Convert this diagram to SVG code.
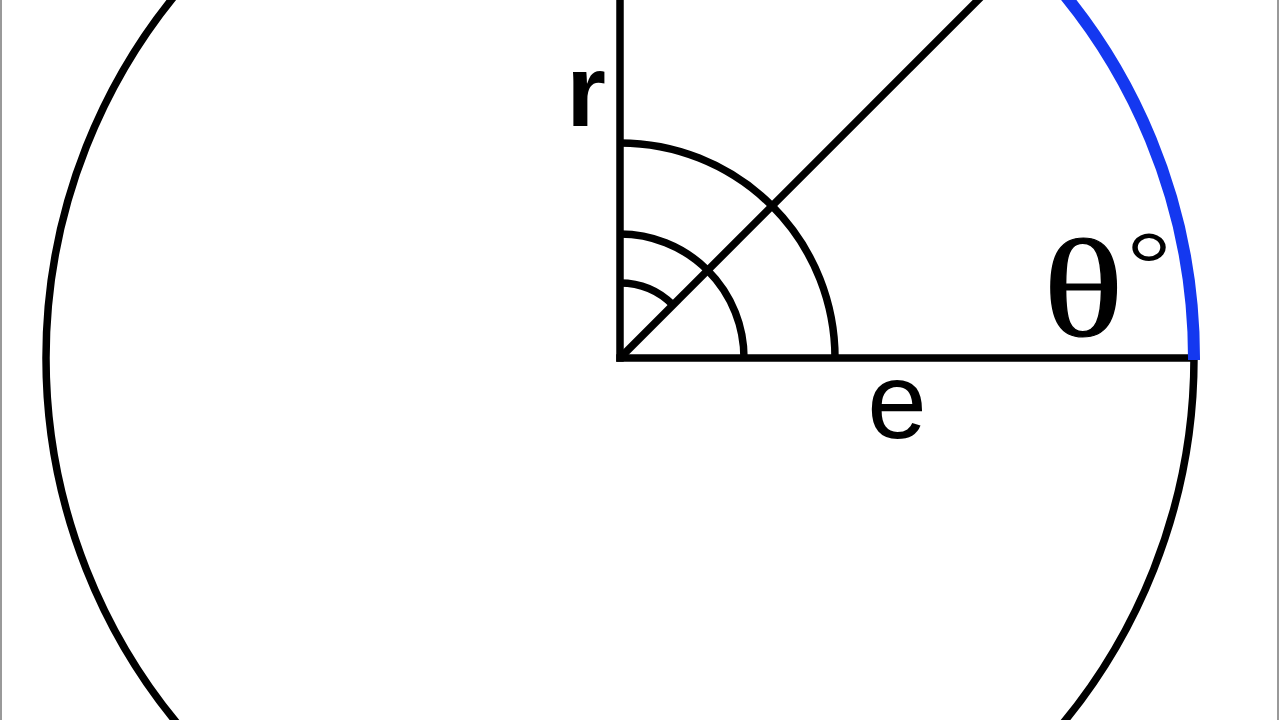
<svg xmlns="http://www.w3.org/2000/svg" width="1280" height="720" viewBox="0 0 1280 720">
<style>
.k{fill:none;stroke:#000;stroke-width:7.5}
.blue{fill:none;stroke:#1438f0;stroke-width:12}
.lbl{fill:#000;font-family:"Liberation Sans",Arial,sans-serif}
.th{fill:#000;font-family:"Liberation Serif","Times New Roman",serif}
</style>
<rect width="1280" height="720" fill="#fff"/>
<line x1="1" y1="0" x2="1" y2="720" stroke="#999" stroke-width="2"/>
<line x1="1278" y1="0" x2="1278" y2="720" stroke="#999" stroke-width="2"/>
<g id="circle"><circle class="k" cx="620" cy="358" r="574"/></g>
<g id="connectors">
<line class="k" x1="620" y1="-5" x2="620" y2="361.75"/>
<line class="k" x1="616.25" y1="358" x2="1194" y2="358"/>
<line class="k" x1="620" y1="358" x2="1030" y2="-52"/>
<path class="k" d="M620 143 A215 215 0 0 1 835 358"/>
<path class="k" d="M620 234 A124 124 0 0 1 744 358"/>
<path class="k" d="M620 283 A75 75 0 0 1 673 305"/>
<path class="blue" d="M1194 360 A574 574 0 0 0 1025.9 -47.9"/>
</g>
<g id="labels">
<text class="th" transform="translate(1043,336) scale(1.2,1)" font-size="140" stroke="#000" stroke-width="1.2">θ</text>
<text class="th" transform="translate(1127,294) scale(1.2,1)" font-size="92">°</text>
<text class="lbl" x="586" y="126" font-size="102" font-weight="bold" text-anchor="middle">r</text>
<text class="lbl" x="897" y="438" font-size="107" text-anchor="middle">e</text>
</g>
</svg>
